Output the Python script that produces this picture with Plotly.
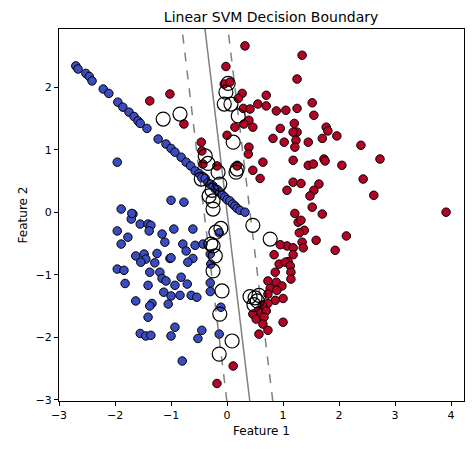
import numpy as np
import plotly.graph_objects as go

# class 0 (blue) points
blue_x = [-2.70, -2.66, -2.52, -2.46, -2.41, -2.21, -2.11, -1.95, -1.86, -1.75, -1.66, -1.59, -1.55, -1.43, -1.23,
          -1.09, -1.00, -0.93, -0.82, -0.73, -0.65, -0.57, -0.50, -0.45, -0.39, -0.34, -0.30, -0.25, -0.21, -0.17, -0.13, -0.08,
          -0.04, 0.00, 0.05, 0.10, 0.14, 0.18, 0.23, 0.32,
          -1.89, -1.68, -1.71, -1.55, -1.41, -1.36, -1.39, -1.96, -1.77, -1.89, -1.16, -1.11, -0.95, -0.61,
          -0.79, -0.57, -0.43, -0.73, -1.25, -1.63, -1.48, -1.45, -1.54, -1.29, -1.02, -1.00, -0.61, -0.70,
          -1.96, -1.84, -1.38, -1.20, -1.16, -1.09, -0.82, -0.71, -0.93, -1.82, -1.41, -1.13, -1.00, -0.84,
          -0.64, -0.54, -1.63, -1.34, -1.38, -1.05, -1.41, -0.93, -0.45, -0.52, -1.55, -1.45, -1.36, -1.00,
          -0.80, -0.30, -0.29, -0.30, -0.30, -0.11, -0.14, -0.14, -1.96, -1.00, -0.77, -1.70]
blue_y = [2.34, 2.29, 2.22, 2.17, 2.10, 1.97, 1.90, 1.76, 1.68, 1.60, 1.53, 1.46, 1.42, 1.34, 1.17,
          1.09, 1.02, 0.96, 0.88, 0.80, 0.74, 0.66, 0.62, 0.55, 0.54, 0.47, 0.45, 0.42, 0.37, 0.36, 0.32, 0.27,
          0.24, 0.20, 0.18, 0.13, 0.10, 0.06, 0.03, 0.00,
          0.05, -0.03, -0.11, -0.19, -0.19, -0.21, -0.30, -0.30, -0.40, -0.51, -0.35, -0.48, -0.27, -0.27,
          -0.51, -0.53, -0.51, -0.62, -0.66, -0.70, -0.67, -0.75, -0.80, -0.81, -0.74, -0.73, -0.74, -0.80,
          -0.91, -0.93, -0.96, -0.96, -1.06, -1.10, -1.04, -1.15, -1.17, -1.14, -1.17, -1.28, -1.34, -1.33,
          -1.33, -1.36, -1.42, -1.46, -1.50, -1.47, -1.68, -1.84, -1.89, -2.02, -1.94, -1.98, -1.97, -1.98,
          -2.38, -0.67, -0.83, -1.13, -1.27, -1.52, -1.95, -0.33, 0.80, 0.19, 0.16, -0.02]

# class 1 (red) points
red_x = [0.32, 1.34, -0.02, -0.05, 0.05, 1.25, 0.27, 0.20, 0.70, 0.55, 0.70, 0.29, 0.41, 0.88, 1.05, 1.25, 1.52,
         1.55, 0.39, 0.30, 0.46, 0.14, 0.95, 1.20, 1.25, 1.18, 1.77, 1.80, 1.96, 0.82, 1.02, 1.23, 1.21, 1.45,
         1.70, 0.00, 2.39, 2.73, 0.39, 0.38, 1.18, 0.64, 0.46, 0.59, 0.18, 1.45, 1.54, 1.73, 1.75, 2.05, 2.43,
         1.18, 1.32, 1.64, 1.55, 1.07, 1.48, 2.62, 1.52, 1.21, 1.70, 3.91, -0.18, -1.38, -1.02, -0.77, -0.46,
         -0.45, -0.43, 0.18,
         1.27, 1.32, 1.38, 1.29, 2.13, 1.59, 1.34, 1.93, 1.07, 0.95, 1.18, 1.36, 0.84, 1.18, 1.09, 0.93, 1.04,
         1.13, 0.86, 1.14, 1.14, 0.73, 0.88, 0.77, 0.98, 0.89, 0.73, 1.00, 0.86, 0.73, 0.63, 0.70, 0.55, 0.46,
         0.52, 0.66, 0.64, 1.00, 0.73, 0.57, 0.11, -0.18]
red_y = [2.66, 2.51, 2.33, 2.05, 2.08, 2.13, 1.90, 1.82, 1.87, 1.73, 1.70, 1.66, 1.65, 1.62, 1.63, 1.66, 1.75,
         1.55, 1.47, 1.41, 1.36, 1.36, 1.34, 1.42, 1.28, 1.28, 1.36, 1.30, 1.22, 1.18, 1.12, 1.15, 1.04, 1.12,
         1.18, 1.23, 1.07, 0.85, 1.04, 0.93, 0.83, 0.80, 0.67, 0.54, 0.75, 0.75, 0.77, 0.85, 0.82, 0.75, 0.53,
         0.48, 0.46, 0.45, 0.35, 0.35, 0.26, 0.27, 0.08, -0.02, -0.03, 0.00, 0.74, 1.78, 1.89, 1.41, 1.12,
         0.98, 0.77, 0.74,
         -0.16, -0.13, -0.29, -0.33, -0.38, -0.45, -0.48, -0.61, -0.54, -0.52, -0.57, -0.57, -0.68, -0.68, -0.79,
         -0.83, -0.80, -0.86, -0.96, -0.96, -1.07, -1.10, -1.12, -1.22, -1.18, -1.25, -1.31, -1.38, -1.41, -1.46,
         -1.49, -1.58, -1.58, -1.63, -1.71, -1.68, -1.79, -1.76, -1.89, -1.95, -2.46, -2.74]

# support vectors
sv_x = [-1.14, -0.84, -0.39, -0.34, -0.46, 0.02, -0.02, 0.07, 0.20, 0.11, 0.18, -0.16, -0.13, 0.16, -0.25,
        -0.25, -0.32, -0.27, 0.46, 0.77, -0.25, -0.21, -0.25, -0.09, -0.13, 0.09, -0.14, -0.20, -0.29, 0.50,
        0.41, 0.54, 0.48, 0.57, -0.11, -0.05]
sv_y = [1.49, 1.57, 0.90, 0.78, 0.53, 2.06, 1.92, 1.73, 1.54, 1.12, 0.69, 0.64, 0.45, 0.64, 0.05,
        0.18, 0.26, 0.35, -0.21, -0.43, -0.54, -0.70, -0.94, -1.26, -1.63, -2.06, -2.27, -0.32, -0.51, -1.37,
        -1.35, -1.42, -1.48, -1.33, -0.26, 1.73]

# decision function f = x + w_y*y + b
w_y = 0.1345
b = 0.0
margin = 0.41

fig = go.Figure()
yy = np.array([-3.02, 2.93])
for lvl, dash in [(-margin, 'dash'), (0, 'solid'), (margin, 'dash')]:
    xx = lvl - b - w_y * yy
    fig.add_trace(go.Scatter(x=xx, y=yy, mode='lines',
                             line=dict(color='#808080', width=1.5, dash=dash), hoverinfo='skip'))

mk = dict(size=8.5, line=dict(color='black', width=1))
fig.add_trace(go.Scatter(x=blue_x, y=blue_y, mode='markers', marker=dict(color='#3b4cc0', **mk)))
fig.add_trace(go.Scatter(x=red_x, y=red_y, mode='markers', marker=dict(color='#b40426', **mk)))
fig.add_trace(go.Scatter(x=sv_x, y=sv_y, mode='markers',
                         marker=dict(size=14, color='rgba(0,0,0,0)', line=dict(color='black', width=1.2))))

ax = dict(showgrid=False, zeroline=False, showline=True, linecolor='black', mirror=True, automargin=False,
          ticks='outside', ticklen=4, tickcolor='black', tickfont=dict(size=11, color='black'))
fig.update_xaxes(range=[-3.0, 4.23], dtick=1, title=dict(text='Feature 1', font=dict(size=12, color='black'), standoff=5), **ax)
fig.update_yaxes(range=[-3.02, 2.93], dtick=1, title=dict(text='Feature 2', font=dict(size=12, color='black'), standoff=5), **ax)
fig.update_layout(width=474, height=450, showlegend=False, plot_bgcolor='white', paper_bgcolor='white',
                  font=dict(family='DejaVu Sans'),
                  title=dict(text='Linear SVM Decision Boundary', x=0.555, xanchor='center',
                             yref='container', y=0.98, yanchor='middle', automargin=False,
                             font=dict(size=14, color='black')),
                  margin=dict(l=51, r=18, t=21, b=57, autoexpand=False))
fig.write_html("out.html")
